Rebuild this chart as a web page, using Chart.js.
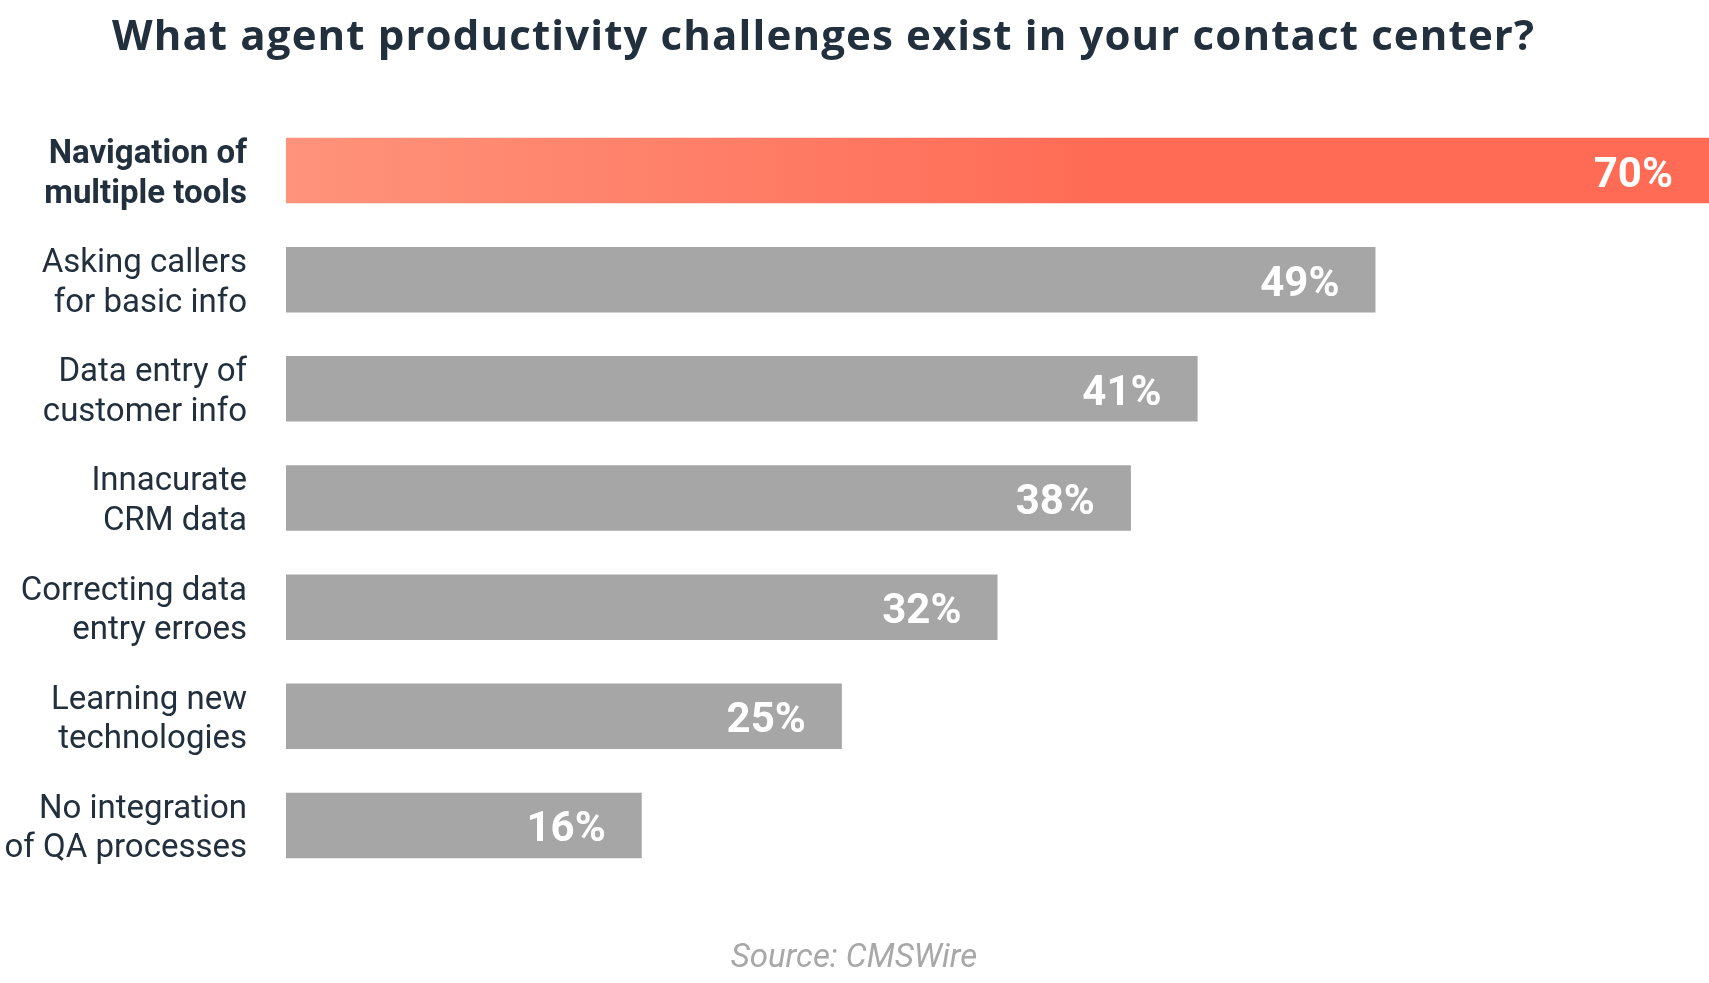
<!DOCTYPE html>
<html>
<head>
<meta charset="utf-8">
<script src="https://cdn.jsdelivr.net/npm/chart.js@4"></script>
<style>
  body { margin: 0; background: #fff; }
  #wrap { width: 1709px; height: 983px; position: relative; }
</style>
</head>
<body>
<div id="wrap"><canvas id="challenges"></canvas></div>
<script>
var categories = [
  ['Navigation of', 'multiple tools'],
  ['Asking callers', 'for basic info'],
  ['Data entry of', 'customer info'],
  ['Innacurate', 'CRM data'],
  ['Correcting data', 'entry erroes'],
  ['Learning new', 'technologies'],
  ['No integration', 'of QA processes']
];
var shares = [70, 49, 41, 38, 32, 25, 16];
var titleText = 'What agent productivity challenges exist in your contact center?';
var sourceText = 'Source: CMSWire';

var navy = '#22303d';
var grey = '#a6a6a6';

function barFill(c) {
  var chart = c.chart;
  if (c.dataIndex !== 0) return grey;
  var area = chart.chartArea;
  if (!area) return '#ff6b55';
  var g = chart.ctx.createLinearGradient(area.left, 0, area.left + 820, 0);
  g.addColorStop(0, '#ff937b');
  g.addColorStop(1, '#ff6b55');
  return g;
}

// title, source line and value labels
var textPlugin = {
  id: 'texts',
  afterDatasetsDraw: function(chart) {
    var ctx = chart.ctx;
    var area = chart.chartArea;
    var meta = chart.getDatasetMeta(0);
    ctx.save();
    ctx.fillStyle = '#ffffff';
    ctx.font = 'bold 42px Roboto';
    ctx.textAlign = 'right';
    ctx.textBaseline = 'alphabetic';
    meta.data.forEach(function(bar, i) {
      var end = Math.min(bar.x, area.right);
      ctx.fillText(shares[i] + '%', end - 36, bar.y + 16);
    });
    ctx.restore();
  },
  afterDraw: function(chart) {
    var ctx = chart.ctx;
    ctx.save();
    ctx.fillStyle = navy;
    ctx.font = 'bold 42px "Open Sans"';
    ctx.textAlign = 'center';
    ctx.textBaseline = 'alphabetic';
    var w = ctx.measureText(titleText).width;
    var sp = (1422 - w) / (titleText.length - 1);
    ctx.letterSpacing = sp.toFixed(2) + 'px';
    ctx.fillText(titleText, 823 + sp / 2, 50);
    ctx.letterSpacing = '0px';
    ctx.fillStyle = '#a8a8a8';
    ctx.font = 'italic 33px Roboto';
    ctx.textBaseline = 'middle';
    ctx.fillText(sourceText, 854, 959);
    ctx.restore();
  }
};

new Chart(document.getElementById('challenges').getContext('2d'), {
  type: 'bar',
  data: {
    labels: categories,
    datasets: [{
      data: shares,
      backgroundColor: barFill,
      borderWidth: 0,
      barPercentage: 0.6,
      categoryPercentage: 1
    }]
  },
  options: {
    indexAxis: 'y',
    responsive: true,
    maintainAspectRatio: false,
    animation: false,
    layout: { padding: { top: 116, bottom: 103, left: 0, right: 0 } },
    plugins: {
      legend: { display: false },
      title: { display: false },
      tooltip: { enabled: false }
    },
    scales: {
      x: {
        display: false,
        min: 0,
        max: 64
      },
      y: {
        grid: { display: false, drawTicks: false },
        border: { display: false },
        afterFit: function(scale) { scale.width = 286; },
        ticks: {
          padding: 39,
          labelOffset: 4,
          color: navy,
          font: function(c) {
            return {
              family: 'Roboto',
              size: 33,
              weight: c.index === 0 ? 'bold' : 'normal',
              lineHeight: 1.2
            };
          }
        }
      }
    }
  },
  plugins: [textPlugin]
});
</script>
</body>
</html>
